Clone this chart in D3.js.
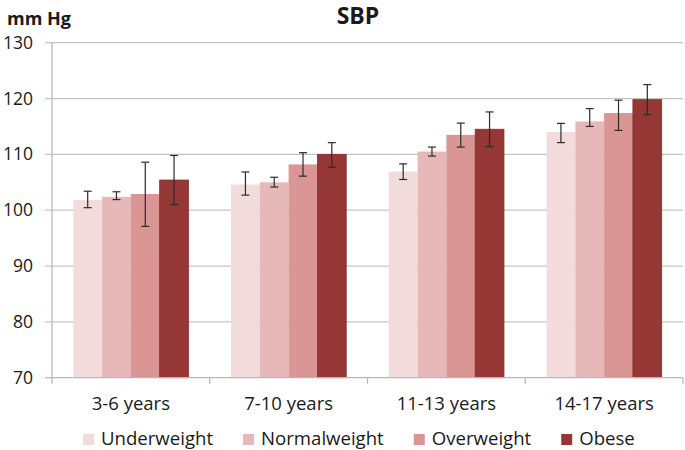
<!DOCTYPE html>
<html lang="en">
<head>
    <meta charset="UTF-8"/>
    <title>SBP</title>
    <script src="https://d3js.org/d3.v7.min.js"></script>
    <style>
        body { margin: 0; background: #fff; }
        text { font-family: "Open Sans", sans-serif; fill: #1a1a1a; }
        .grid-line { stroke: #c4c4c4; stroke-width: 1.3; }
        .axis-line { stroke: #b8b8b8; stroke-width: 1.3; fill: none; }
        .err { stroke: #2b2b2b; stroke-width: 1.2; }
    </style>
</head>
<body></body>
<script type="text/javascript">
    // data
    let categories = ["3-6 years", "7-10 years", "11-13 years", "14-17 years"];
    let seriesNames = ["Underweight", "Normalweight", "Overweight", "Obese"];
    let seriesColors = ["#f2dcdb", "#e6b9b8", "#d99694", "#953735"];

    let underweight = [101.8, 104.6, 106.9, 114.0];
    let normalweight = [102.4, 105.0, 110.5, 115.9];
    let overweight = [102.9, 108.2, 113.5, 117.4];
    let obese = [105.4, 110.0, 114.5, 119.8];

    // error bar ends [low, high]
    let underweightErr = [[100.45, 103.4], [102.7, 106.85], [105.5, 108.3], [112.1, 115.55]];
    let normalweightErr = [[101.9, 103.3], [104.15, 105.9], [109.7, 111.3], [115.0, 118.2]];
    let overweightErr = [[97.1, 108.6], [106.1, 110.3], [111.3, 115.6], [114.3, 119.7]];
    let obeseErr = [[101.0, 109.8], [107.7, 112.1], [111.4, 117.6], [117.1, 122.5]];

    let yTicks = [70, 80, 90, 100, 110, 120, 130];

    let seriesValues = [underweight, normalweight, overweight, obese];
    let seriesErr = [underweightErr, normalweightErr, overweightErr, obeseErr];

    let width = 685, height = 450;
    let plotLeft = 52, plotRight = 683, plotTop = 42.7, plotBottom = 377.7;

    let svg = d3.select("body").append("svg")
        .attr("width", width)
        .attr("height", height);

    let y = d3.scaleLinear().domain([70, 130]).range([plotBottom, plotTop]);

    let x0 = d3.scaleBand().domain(categories).range([plotLeft, plotRight])
        .paddingInner(0.27).paddingOuter(0.135);
    let x1 = d3.scaleBand().domain(seriesNames).range([0, x0.bandwidth()]);
    let step = x0.step();

    // grid lines + y ticks
    let yAxis = svg.append("g");
    yAxis.selectAll("line.grid-line")
        .data(yTicks.filter(d => d > 70))
        .enter().append("line")
        .attr("class", "grid-line")
        .attr("x1", plotLeft - 7).attr("x2", plotRight)
        .attr("y1", d => y(d)).attr("y2", d => y(d));
    yAxis.append("line")
        .attr("class", "axis-line")
        .attr("x1", plotLeft - 7).attr("x2", plotLeft)
        .attr("y1", y(70)).attr("y2", y(70));
    yAxis.selectAll("text")
        .data(yTicks)
        .enter().append("text")
        .attr("x", 33)
        .attr("y", d => y(d))
        .attr("dy", "0.35em")
        .attr("text-anchor", "end")
        .style("font-size", "17.5px")
        .text(d => d);

    // bars
    let groups = svg.selectAll("g.group")
        .data(categories)
        .enter().append("g")
        .attr("class", "group")
        .attr("transform", d => "translate(" + x0(d) + ",0)");

    groups.selectAll("rect")
        .data((c, ci) => seriesNames.map((s, si) => ({s: s, si: si, v: seriesValues[si][ci]})))
        .enter().append("rect")
        .attr("x", d => x1(d.s))
        .attr("y", d => y(d.v))
        .attr("width", x1.bandwidth())
        .attr("height", d => y(70) - y(d.v))
        .style("fill", d => seriesColors[d.si])
        .style("stroke", d => d.si === 3 ? "#862c2a" : "none")
        .style("stroke-width", 0.8);

    // error bars
    let errG = groups.selectAll("g.err")
        .data((c, ci) => seriesNames.map((s, si) => ({s: s, lo: seriesErr[si][ci][0], hi: seriesErr[si][ci][1]})))
        .enter().append("g")
        .attr("transform", d => "translate(" + (x1(d.s) + x1.bandwidth() / 2) + ",0)");
    errG.append("line").attr("class", "err")
        .attr("x1", 0).attr("x2", 0)
        .attr("y1", d => y(d.lo)).attr("y2", d => y(d.hi));
    errG.append("line").attr("class", "err")
        .attr("x1", -4).attr("x2", 4)
        .attr("y1", d => y(d.lo)).attr("y2", d => y(d.lo));
    errG.append("line").attr("class", "err")
        .attr("x1", -4).attr("x2", 4)
        .attr("y1", d => y(d.hi)).attr("y2", d => y(d.hi));

    // axes lines
    svg.append("line").attr("class", "axis-line")
        .attr("x1", plotLeft).attr("x2", plotLeft)
        .attr("y1", plotTop).attr("y2", plotBottom);
    svg.append("line").attr("class", "axis-line")
        .attr("x1", plotLeft).attr("x2", plotRight)
        .attr("y1", plotBottom).attr("y2", plotBottom);

    // category boundary ticks
    let boundaries = categories.map(c => x0(c) - step * 0.135).concat([plotRight]);
    svg.selectAll("line.xtick")
        .data(boundaries)
        .enter().append("line")
        .attr("class", "axis-line")
        .attr("x1", d => d).attr("x2", d => d)
        .attr("y1", plotBottom).attr("y2", plotBottom + 6);

    svg.selectAll("text.xlab")
        .data(categories)
        .enter().append("text")
        .attr("class", "xlab")
        .attr("x", d => x0(d) + x0.bandwidth() / 2)
        .attr("y", 410)
        .attr("text-anchor", "middle")
        .style("font-size", "18.5px")
        .text(d => d);

    // titles
    svg.append("text")
        .attr("x", 358).attr("y", 23.5)
        .attr("text-anchor", "middle")
        .style("font-size", "23px")
        .style("font-weight", "bold")
        .text("SBP");
    svg.append("text")
        .attr("x", 7).attr("y", 25)
        .style("font-size", "18px")
        .style("font-weight", "bold")
        .text("mm Hg");

    // legend
    let legend = svg.append("g");
    let lx = 83;
    seriesNames.forEach((s, i) => {
        legend.append("rect")
            .attr("x", lx).attr("y", 434)
            .attr("width", 11).attr("height", 11)
            .style("fill", seriesColors[i]);
        let t = legend.append("text")
            .attr("x", lx + 18).attr("y", 445)
            .style("font-size", "18.6px")
            .text(s);
        lx += 18 + t.node().getComputedTextLength() + 30;
    });
</script>
</html>
